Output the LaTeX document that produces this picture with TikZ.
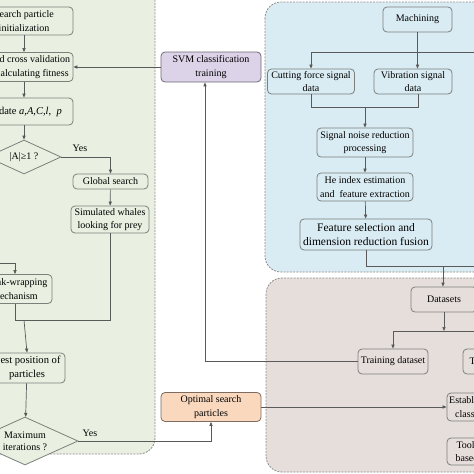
\documentclass[tikz,border=0pt]{standalone}
\usepackage{fontspec}
\setmainfont{Liberation Serif}
\usetikzlibrary{arrows.meta,calc,positioning,shapes.geometric}
\definecolor{Sage}{HTML}{E9F0E1}
\definecolor{Sky}{HTML}{DAECF3}
\definecolor{Taupe}{HTML}{E6DEDB}
\definecolor{Lilac}{HTML}{DCD3E8}
\definecolor{Apricot}{HTML}{F9D8BE}
\definecolor{Rim}{HTML}{7B807B}
\definecolor{Wire}{HTML}{5A5A5A}
\definecolor{Dash}{HTML}{8C8C8C}

\begin{document}
\begin{tikzpicture}[x=1pt, y=-1pt, >={Triangle[length=4pt,width=3.2pt]},
    stage/.style={draw=Rim, line width=0.8pt, rounded corners=4pt, align=center, inner sep=1pt, font=\fontsize{10}{13.5}\selectfont},
    decision/.style={draw=Rim, line width=0.8pt, diamond, aspect=2.2, inner sep=0pt, align=center, font=\fontsize{10}{12}\selectfont},
    panel/.style={draw=Dash, line width=0.8pt, dash pattern=on 2pt off 1.2pt, rounded corners=16pt},
    link/.style={draw=Wire, line width=0.7pt},
    tag/.style={font=\fontsize{10}{12}\selectfont}]
    \useasboundingbox (0,0) rectangle (474,474);
    \clip (0,0) rectangle (474,474);
    % panels
    \draw[panel, fill=Sage] (-30,-20) rectangle (155,454);
    \draw[panel, fill=Sky] (265,2) rectangle (510,272);
    \draw[panel, fill=Taupe] (266,278) rectangle (510,472);

    % left column: whale search
    \node[stage, fill=Sage, minimum width=98pt, minimum height=28pt] (init) at (24,21) {Search particle\\initialization};
    \node[stage, fill=Sage, minimum width=98pt, minimum height=29pt] (cv) at (24,67) {K-fold cross validation\\and calculating fitness};
    \node[stage, fill=Sage, minimum width=98pt, minimum height=27pt, font=\fontsize{10.5}{13}\selectfont] (upd) at (24,111.5) {Update \textit{a,A,C,l}, \ \textit{p}};
    \node[decision, fill=Sage, minimum width=74pt, minimum height=34pt] (ask) at (24,157) {|A|≥1 ?};
    \node[stage, fill=Sage, minimum width=75pt, minimum height=15pt] (glob) at (110.5,181.5) {Global search};
    \node[stage, fill=Sage, minimum width=78pt, minimum height=27pt] (whale) at (110,219.5) {Simulated whales\\looking for prey};
    \node[stage, fill=Sage, minimum width=74pt, minimum height=29pt] (shrink) at (15,289) {Cloak-wrapping\\mechanism};
    \node[stage, fill=Sage, minimum width=76pt, minimum height=30pt, font=\fontsize{10.6}{13.5}\selectfont] (best) at (27,368) {Best position of\\particles};
    \node[decision, fill=Sage, minimum width=106pt, minimum height=48pt] (stop) at (25,441) {Maximum\\iterations ?};

    % middle
    \node[stage, draw=Lilac!50!black, fill=Lilac, minimum width=100pt, minimum height=30pt] (svm) at (211,67) {SVM classification\\training};
    \node[stage, draw=Apricot!50!black, fill=Apricot, minimum width=100pt, minimum height=29pt] (opt) at (211,407) {Optimal search\\particles};

    % right top: signal processing
    \node[stage, fill=Sky, minimum width=69pt, minimum height=25pt] (mach) at (417.5,19.5) {Machining};
    \node[stage, fill=Sky, minimum width=87pt, minimum height=25pt] (cut) at (311,81.5) {Cutting force signal\\data};
    \node[stage, fill=Sky, minimum width=78pt, minimum height=25pt] (vib) at (413,81.5) {Vibration signal\\data};
    \node[stage, fill=Sky, minimum width=96pt, minimum height=29pt] (noise) at (365,142.5) {Signal noise reduction\\processing};
    \node[stage, fill=Sky, minimum width=96pt, minimum height=28pt] (he) at (365,187) {He index estimation\\and~ feature extraction};
    \node[stage, fill=Sky, minimum width=132pt, minimum height=31pt, font=\fontsize{11.5}{14}\selectfont] (feat) at (366,234.5) {Feature selection and\\dimension reduction fusion};

    % right bottom: datasets
    \node[stage, fill=Taupe, minimum width=66pt, minimum height=25pt] (data) at (444,299.5) {Datasets};
    \node[stage, fill=Taupe, minimum width=70pt, minimum height=25pt] (train) at (393,361.5) {Training dataset};
    \node[stage, fill=Taupe, minimum width=60pt, minimum height=25pt] (test) at (493,361.5) {Test dataset};
    \node[stage, fill=Taupe, minimum width=80pt, minimum height=28pt] (est) at (487,407) {Establish the SVM\\classifier model};
    \node[stage, fill=Taupe, minimum width=80pt, minimum height=27pt] (tool) at (487,451.5) {Tool wear state\\based on model};

    % left connectors
    \coordinate (feedL) at (-10,263);
    \coordinate (fold) at (15,320);
    \coordinate (join) at (24,320);
    \draw[link,->] (init) -- (cv);
    \draw[link,->] (cv) -- (upd);
    \draw[link,->] (upd) -- (ask);
    \draw[link,->] (ask.east) -| (glob.north);
    \node[tag] at (80,148) {Yes};
    \draw[link,->] (glob) -- (whale);
    \draw[link,->] (feedL) -| (shrink.north);
    \draw[link] (whale.south) |- (fold);
    \draw[link] (shrink.south) -- (fold);
    \draw[link,->] (join) -- (best.north);
    \draw[link,->] (best) -- (stop);
    \draw[link,->] (stop.east) -| (opt.south);
    \node[tag] at (90,433) {Yes};
    \draw[link,->] (svm.west) -- (cv.east);
    \draw[link,->] (opt.east) -- (est.west);
    \draw[link,->] (train.west) -| ([xshift=-6pt]svm.south);

    % right connectors
    \coordinate (fork) at (418,52);
    \coordinate (forkR) at (500,52);
    \coordinate (meet) at (418,107);
    \coordinate (bend) at (443,266);
    \coordinate (bendR) at (500,266);
    \coordinate (split) at (444,331);
    \draw[link,->] (mach.south) -- (mach.south |- vib.north);
    \draw[link,->] (fork) -| (cut.north);
    \draw[link] (fork) -- (forkR);
    \draw[link] (cut.south) |- (meet) -- (meet |- vib.south);
    \draw[link,->] (noise.north |- meet) -- (noise.north);
    \draw[link,->] (noise) -- (he);
    \draw[link,->] (he) -- (feat);
    \draw[link,->] (feat.south) |- (bend) -- (bend |- data.north);
    \draw[link] (bend) -- (bendR);
    \draw[link,->] (data.south) -- (split);
    \draw[link,->] (split) -| (train.north);
    \draw[link,->] (split) -| (test.north);
  \end{tikzpicture}
\end{document}
